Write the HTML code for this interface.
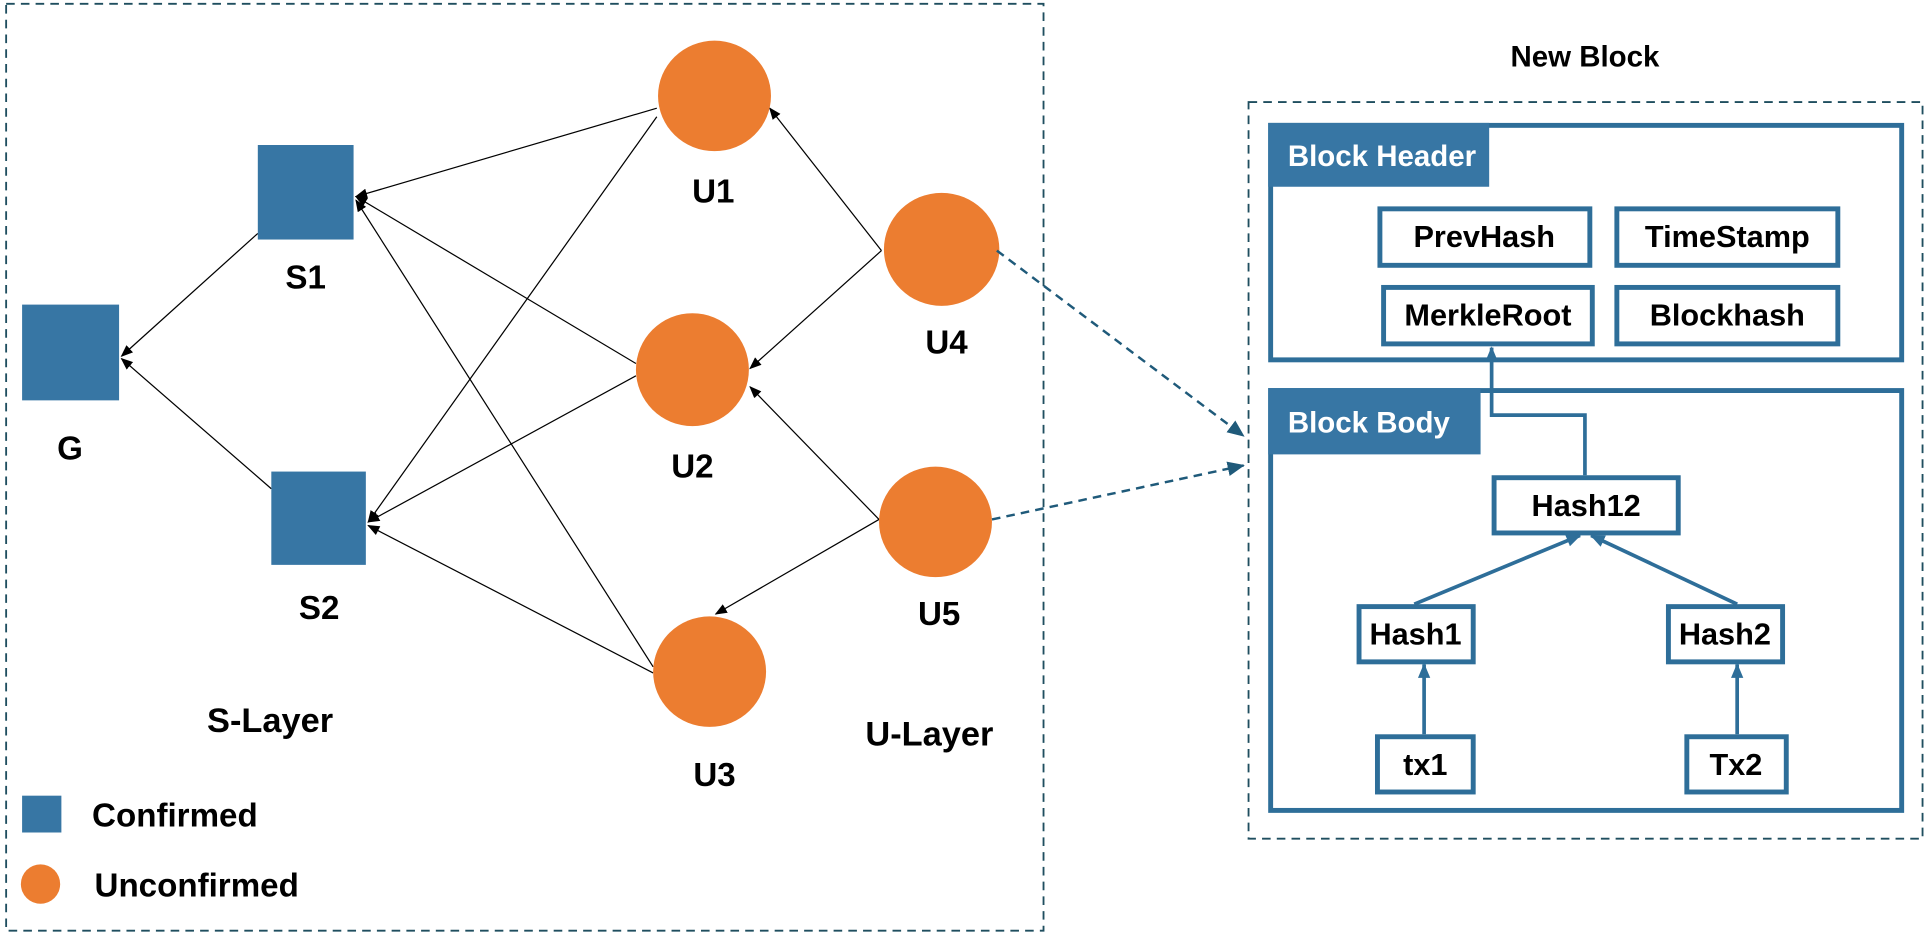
<!DOCTYPE html>
<html><head><meta charset="utf-8"><style>html,body{margin:0;padding:0;background:#fff}svg{display:block}</style></head>
<body>
<svg width="1925" height="937" viewBox="0 0 1568 763" xmlns="http://www.w3.org/2000/svg" font-family="Liberation Sans, Arial, sans-serif" font-weight="bold">
<defs>
<marker id="a" markerWidth="10" markerHeight="10" refX="9" refY="5" orient="auto" markerUnits="userSpaceOnUse"><path d="M0,1 L10,5 L0,9 Z" fill="#000"/></marker>
<marker id="b" markerWidth="12" markerHeight="12" refX="11" refY="6" orient="auto" markerUnits="userSpaceOnUse"><path d="M0,1 L12,6 L0,11 Z" fill="#2e6e99"/></marker>
<marker id="c" markerWidth="14" markerHeight="12" refX="13" refY="6" orient="auto" markerUnits="userSpaceOnUse"><path d="M0,0 L14,6 L0,12 Z" fill="#1f5a7a"/></marker>
</defs>
<rect x="5" y="3" width="845" height="755" fill="none" stroke="#1f4e5f" stroke-width="1.5" stroke-dasharray="7,5"/>
<rect x="1017" y="83" width="549" height="600" fill="none" stroke="#1f4e5f" stroke-width="1.5" stroke-dasharray="7,5"/>
<g stroke="#000" stroke-width="1" fill="none" marker-end="url(#a)">
<line x1="210" y1="190" x2="99" y2="290"/>
<line x1="221" y1="398" x2="99" y2="292"/>
<line x1="535" y1="88" x2="290" y2="160"/>
<line x1="535" y1="95" x2="300" y2="425"/>
<line x1="518" y1="296" x2="290" y2="160"/>
<line x1="518" y1="306" x2="300" y2="425"/>
<line x1="532" y1="543" x2="290" y2="163"/>
<line x1="532" y1="548" x2="300" y2="428"/>
<line x1="718" y1="204" x2="627" y2="88"/>
<line x1="718" y1="204" x2="611" y2="300"/>
<line x1="716" y1="423" x2="611" y2="315"/>
<line x1="716" y1="423" x2="583" y2="500"/>
</g>
<g fill="#3776a4">
<rect x="18" y="248" width="79" height="78"/>
<rect x="210" y="118" width="78" height="77"/>
<rect x="221" y="384" width="77" height="76"/>
<rect x="18" y="648" width="32" height="30"/>
</g>
<g fill="#ec7d30">
<ellipse cx="582" cy="78" rx="46" ry="45"/>
<ellipse cx="564" cy="301" rx="46" ry="46"/>
<ellipse cx="578" cy="547" rx="46" ry="45"/>
<ellipse cx="767" cy="203" rx="47" ry="46"/>
<ellipse cx="762" cy="425" rx="46" ry="45"/>
<circle cx="33" cy="720" r="16"/>
</g>
<g font-size="27" fill="#000" text-anchor="middle">
<text x="57" y="374">G</text>
<text x="249" y="235">S1</text>
<text x="260" y="504">S2</text>
<text x="581" y="165">U1</text>
<text x="564" y="389">U2</text>
<text x="582" y="640">U3</text>
<text x="771" y="288">U4</text>
<text x="765" y="509">U5</text>
<text x="220" y="596" font-size="28">S-Layer</text>
<text x="757" y="607" font-size="28">U-Layer</text>
</g>
<text x="1291" y="54" font-size="24" text-anchor="middle">New Block</text>
<g font-size="27" fill="#000">
<text x="75" y="673">Confirmed</text>
<text x="77" y="730">Unconfirmed</text>
</g>
<g stroke="#1f5a7a" stroke-width="2" stroke-dasharray="7,5" fill="none" marker-end="url(#c)">
<line x1="812" y1="204" x2="1013" y2="355"/>
<line x1="808" y1="423" x2="1013" y2="379"/>
</g>
<g fill="none" stroke="#2e6e99" stroke-width="4">
<rect x="1035" y="102" width="514" height="191"/>
<rect x="1035" y="318" width="514" height="342"/>
<rect x="1124" y="170" width="171" height="46"/>
<rect x="1317" y="170" width="180" height="46"/>
<rect x="1127" y="234" width="170" height="46"/>
<rect x="1317" y="234" width="180" height="46"/>
<rect x="1217" y="389" width="150" height="45"/>
<rect x="1107" y="494" width="93" height="45"/>
<rect x="1359" y="494" width="93" height="45"/>
<rect x="1122" y="600" width="78" height="45"/>
<rect x="1374" y="600" width="81" height="45"/>
</g>
<rect x="1033" y="100" width="180" height="52" fill="#3776a4"/>
<rect x="1033" y="316" width="173" height="54" fill="#3776a4"/>
<g fill="none" stroke="#2e6e99" stroke-width="3" marker-end="url(#b)">
<polyline points="1291,387 1291,338 1215,338 1215,283"/>
<line x1="1152" y1="492" x2="1287" y2="436"/>
<line x1="1415" y1="492" x2="1296" y2="436"/>
<line x1="1160" y1="598" x2="1160" y2="541"/>
<line x1="1415" y1="598" x2="1415" y2="541"/>
</g>
<g font-size="24" fill="#fff">
<text x="1049" y="135">Block Header</text>
<text x="1049" y="352">Block Body</text>
</g>
<g font-size="25" fill="#000" text-anchor="middle">
<text x="1209" y="201">PrevHash</text>
<text x="1407" y="201">TimeStamp</text>
<text x="1212" y="265">MerkleRoot</text>
<text x="1407" y="265">Blockhash</text>
<text x="1292" y="420">Hash12</text>
<text x="1153" y="525">Hash1</text>
<text x="1405" y="525">Hash2</text>
<text x="1161" y="631">tx1</text>
<text x="1414" y="631">Tx2</text>
</g>
</svg>
</body></html>
